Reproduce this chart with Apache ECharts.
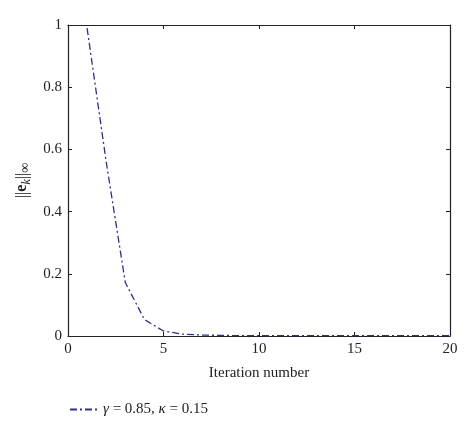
<!DOCTYPE html>
<html>
<head>
<meta charset="utf-8">
<script src="https://cdn.jsdelivr.net/npm/echarts@6/dist/echarts.min.js"></script>
<style>
    html, body { margin: 0; padding: 0; background: #fff; }
    #chart { width: 474px; height: 431px; }
</style>
</head>
<body>
<div id="chart"></div>
<script>
    // iteration number and error norm
    var iterations = [1, 2, 3, 4, 5, 6, 7, 8, 9, 10, 11, 12, 13, 14, 15, 16, 17, 18, 19, 20];
    var errNorm = [0.99, 0.56, 0.172, 0.053, 0.016, 0.006, 0.003, 0.002, 0.001, 0.001, 0.001, 0.001, 0.001, 0.001, 0.001, 0.001, 0.001, 0.001, 0.001, 0.001];
    var xTicks = [0, 5, 10, 15, 20];
    var yTicks = [0, 0.2, 0.4, 0.6, 0.8, 1];
    var seriesName = 'gamma';

    var serif = '"Liberation Serif", "DejaVu Serif", serif';
    var lineColor = '#2e2e8c';
    var ink = '#222';

    var myChart = echarts.init(document.getElementById('chart'));

    var points = iterations.map(function (it, i) { return [it, errNorm[i]]; });

    // box axis (top / right) with inside ticks only
    function boxAxis(pos) {
        return {
            type: 'value',
            position: pos,
            min: 0,
            max: pos === 'top' ? 20 : 1,
            interval: pos === 'top' ? 5 : 0.2,
            axisLine: { show: true, onZero: false, lineStyle: { color: ink, width: 1.2 } },
            axisTick: { show: true, inside: true, length: 4, lineStyle: { color: ink } },
            axisLabel: { show: false },
            splitLine: { show: false }
        };
    }

    var options = {
        animation: false,
        grid: {
            left: 68,
            right: 24,
            top: 25,
            bottom: 95,
            containLabel: false
        },
        legend: {
            data: [seriesName],
            left: 64,
            top: 397,
            itemWidth: 28,
            itemHeight: 14,
            itemGap: 8,
            itemStyle: { opacity: 0 },
            formatter: function () {
                return '{i|γ} = 0.85, {i|κ} = 0.15';
            },
            textStyle: {
                fontFamily: serif,
                fontSize: 15,
                color: ink,
                rich: {
                    i: { fontFamily: serif, fontStyle: 'italic', fontSize: 15, color: ink }
                }
            }
        },
        xAxis: [{
            type: 'value',
            min: 0,
            max: 20,
            interval: 5,
            name: 'Iteration number',
            nameLocation: 'middle',
            nameGap: 30,
            nameTextStyle: { fontFamily: serif, fontSize: 15, color: ink },
            axisLine: { onZero: false, lineStyle: { color: ink, width: 1.2 } },
            axisTick: { inside: true, length: 4, lineStyle: { color: ink } },
            axisLabel: {
                fontFamily: serif, fontSize: 15, color: ink, margin: 6,
                formatter: function (v) { return xTicks.indexOf(v) >= 0 ? String(v) : ''; }
            },
            splitLine: { show: false }
        }, boxAxis('top')],
        yAxis: [{
            type: 'value',
            min: 0,
            max: 1,
            interval: 0.2,
            name: '{n|||}{b|e}{k|k}{n|||}{s|∞}',
            nameLocation: 'middle',
            nameGap: 30,
            nameRotate: 90,
            nameTextStyle: {
                fontFamily: serif, fontSize: 16, color: ink,
                rich: {
                    n: { fontFamily: serif, fontSize: 16, color: ink },
                    b: { fontFamily: serif, fontSize: 16, fontWeight: 'bold', color: ink },
                    k: { fontFamily: serif, fontSize: 12, fontStyle: 'italic', color: ink, verticalAlign: 'bottom', padding: [6, 0, 0, 0] },
                    s: { fontFamily: serif, fontSize: 14, color: ink, verticalAlign: 'bottom', padding: [6, 0, 0, 0] }
                }
            },
            axisLine: { onZero: false, lineStyle: { color: ink, width: 1.2 } },
            axisTick: { inside: true, length: 4, lineStyle: { color: ink } },
            axisLabel: {
                fontFamily: serif, fontSize: 15, color: ink, margin: 6,
                formatter: function (v) {
                    var t = Math.round(v * 10) / 10;
                    return yTicks.indexOf(t) >= 0 ? String(t) : '';
                }
            },
            splitLine: { show: false }
        }, boxAxis('right')],
        series: [{
            name: seriesName,
            type: 'line',
            data: points,
            showSymbol: false,
            symbol: 'none',
            smooth: false,
            color: lineColor,
            lineStyle: { color: lineColor, width: 1.3, type: [7, 3, 2, 3] }
        }]
    };

    myChart.setOption(options);
    window.addEventListener('resize', myChart.resize);
</script>
</body>
</html>
